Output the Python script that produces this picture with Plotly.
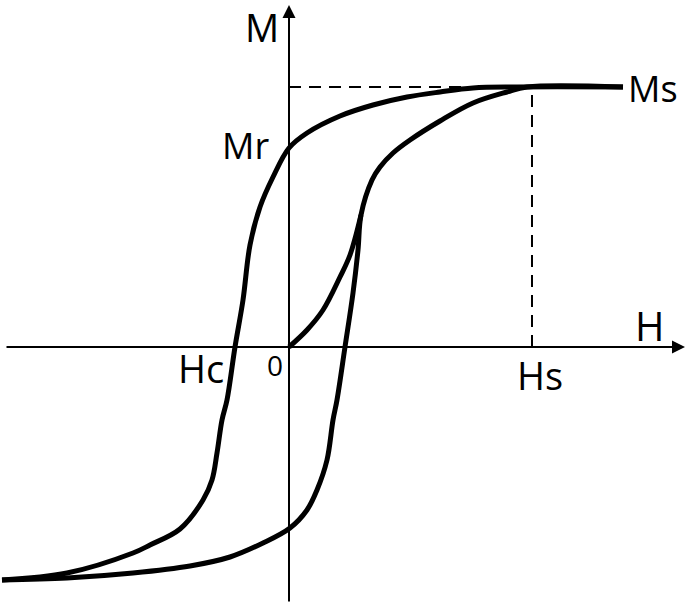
import plotly.graph_objects as go

# --- DATA (H, M in arbitrary units) ---
# descending branch, from saturation at the right down to the lower left
desc_h = [3.34, 2.28, 1.84, 1.51, 1.18, 0.84, 0.51, 0.18, 0.0, -0.16, -0.29, -0.39,
          -0.46, -0.54, -0.62, -0.67, -0.72, -0.77, -0.86, -1.09, -1.39, -1.56,
          -2.22, -2.87]
desc_m = [2.60, 2.60, 2.59, 2.55, 2.50, 2.42, 2.31, 2.14, 1.99, 1.70, 1.40, 1.02,
          0.47, 0.0, -0.53, -0.73, -1.06, -1.33, -1.53, -1.82, -1.98, -2.06,
          -2.26, -2.33]

# ascending branch, from the lower left back up to saturation
asc_h = [-2.87, -2.22, -1.56, -0.99, -0.59, -0.26, 0.01, 0.18, 0.28, 0.38, 0.44, 0.48,
         0.56, 0.64, 0.69, 0.72, 0.83, 0.91, 1.04, 1.21, 1.51, 1.84, 2.18, 2.38, 3.34]
asc_m = [-2.33, -2.31, -2.26, -2.19, -2.10, -1.96, -1.81, -1.63, -1.43, -1.13, -0.73, -0.53,
         0.0, 0.54, 0.97, 1.32, 1.67, 1.80, 1.94, 2.07, 2.26, 2.44, 2.55, 2.60, 2.60]

# initial magnetisation curve from the origin
init_h = [0.0, 0.18, 0.34, 0.51, 0.61, 0.72]
init_m = [0.0, 0.17, 0.37, 0.70, 0.92, 1.32]

Hs = 2.43   # saturation field
Ms = 2.60   # saturation magnetisation

# axis extents
H_MIN, H_MAX = -2.84, 3.96
M_MIN, M_MAX = -2.56, 3.42

LABELS = ["M", "Mr", "Ms", "H", "Hs", "Hc", "0"]
LABEL_H = [-0.27, -0.44, 3.64, 3.61, 2.51, -0.88, -0.14]
LABEL_M = [3.205, 2.02, 2.59, 0.22, -0.28, -0.21, -0.18]
LABEL_SIZE = [38, 36, 36, 40, 38, 38, 28]

fig = go.Figure()

curve = dict(color="black", width=5, shape="spline", smoothing=1.0)
for hx, my in [(desc_h, desc_m), (asc_h, asc_m), (init_h, init_m)]:
    fig.add_trace(go.Scatter(x=hx, y=my, mode="lines", line=curve,
                             hoverinfo="skip", showlegend=False))

# dashed guides to Ms and Hs
guide = dict(color="black", width=2, dash="12px,8px")
fig.add_trace(go.Scatter(x=[0, Hs], y=[Ms, Ms], mode="lines", line=guide,
                         hoverinfo="skip", showlegend=False))
fig.add_trace(go.Scatter(x=[Hs, Hs], y=[0, Ms], mode="lines", line=guide,
                         hoverinfo="skip", showlegend=False))

# axes with arrow heads
fig.add_annotation(x=H_MAX, y=0, ax=H_MIN, ay=0, xref="x", yref="y",
                   axref="x", ayref="y", showarrow=True, arrowhead=2,
                   arrowsize=1.3, arrowwidth=2, arrowcolor="black", text="")
fig.add_annotation(x=0, y=M_MAX, ax=0, ay=M_MIN, xref="x", yref="y",
                   axref="x", ayref="y", showarrow=True, arrowhead=2,
                   arrowsize=1.3, arrowwidth=2, arrowcolor="black", text="")

for txt, hx, my, sz in zip(LABELS, LABEL_H, LABEL_M, LABEL_SIZE):
    fig.add_annotation(x=hx, y=my, text=txt, showarrow=False,
                       font=dict(family="Open Sans", size=sz, color="black"))

fig.update_xaxes(range=[-2.89, 3.96], visible=False, showgrid=False, zeroline=False)
fig.update_yaxes(range=[-2.59, 3.47], visible=False, showgrid=False, zeroline=False)

fig.update_layout(
    width=685, height=606,
    margin=dict(l=0, r=0, t=0, b=0),
    plot_bgcolor="white", paper_bgcolor="white",
)

# drop the page's default body margin so the figure sits at the top-left corner
fig.write_html("out.html", config={"displayModeBar": False},
               post_script="document.body.style.margin='0';")
